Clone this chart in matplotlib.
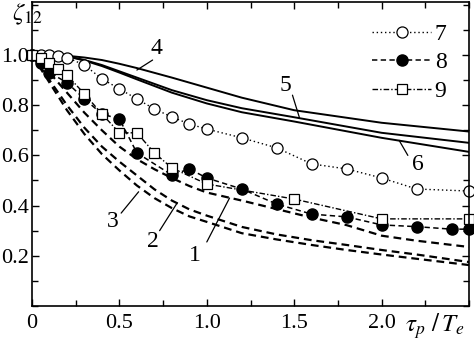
import matplotlib
matplotlib.use("Agg")
import matplotlib.pyplot as plt
from matplotlib.ticker import MultipleLocator

plt.rcParams["font.family"] = ["Liberation Serif", "DejaVu Serif"]
plt.rcParams["mathtext.fontset"] = "stix"

# Calculated curves 1-6 (tau_p / T_e vs zeta_12)
x_calc = [0, 0.1, 0.2, 0.3, 0.4, 0.5, 0.6, 0.7, 0.8, 0.9, 1.0, 1.2, 1.4, 1.6, 1.8, 2.0, 2.2, 2.5]
y1 = [1.0, 0.93, 0.85, 0.77, 0.70, 0.635, 0.585, 0.545, 0.51, 0.478, 0.452, 0.42, 0.386, 0.352, 0.322, 0.28, 0.26, 0.235]
y2 = [1.0, 0.90, 0.80, 0.71, 0.635, 0.575, 0.52, 0.465, 0.42, 0.385, 0.36, 0.315, 0.285, 0.262, 0.243, 0.223, 0.205, 0.175]
y3 = [1.0, 0.89, 0.78, 0.685, 0.605, 0.54, 0.48, 0.43, 0.39, 0.357, 0.335, 0.29, 0.265, 0.243, 0.223, 0.205, 0.188, 0.163]

x_solid = [0, 0.1, 0.2, 0.3, 0.4, 0.5, 0.6, 0.8, 1.0, 1.2, 1.5, 2.0, 2.5]
y4 = [1.0, 1.0, 0.997, 0.99, 0.98, 0.965, 0.948, 0.91, 0.87, 0.83, 0.78, 0.73, 0.695]
y5 = [1.0, 1.0, 0.995, 0.98, 0.96, 0.935, 0.91, 0.86, 0.82, 0.788, 0.752, 0.69, 0.65]
y6 = [1.0, 1.0, 0.995, 0.978, 0.956, 0.93, 0.903, 0.85, 0.807, 0.772, 0.735, 0.67, 0.614]

# Measured points 7-9
x7 = [0, 0.05, 0.1, 0.15, 0.2, 0.3, 0.4, 0.5, 0.6, 0.7, 0.8, 0.9, 1.0, 1.2, 1.4, 1.6, 1.8, 2.0, 2.2, 2.5]
y7 = [1.0, 1.0, 1.0, 0.995, 0.99, 0.96, 0.905, 0.865, 0.825, 0.785, 0.753, 0.725, 0.705, 0.67, 0.63, 0.566, 0.546, 0.51, 0.466, 0.458]

x8 = [0, 0.05, 0.1, 0.2, 0.3, 0.4, 0.5, 0.6, 0.8, 0.9, 1.0, 1.2, 1.4, 1.6, 1.8, 2.0, 2.2, 2.4, 2.5]
y8 = [1.0, 0.97, 0.93, 0.89, 0.825, 0.765, 0.745, 0.61, 0.522, 0.546, 0.51, 0.466, 0.406, 0.366, 0.355, 0.323, 0.316, 0.306, 0.306]

x9 = [0, 0.05, 0.1, 0.15, 0.2, 0.3, 0.4, 0.5, 0.6, 0.7, 0.8, 1.0, 1.5, 2.0, 2.5]
y9 = [1.0, 0.99, 0.968, 0.944, 0.92, 0.845, 0.765, 0.69, 0.69, 0.61, 0.55, 0.486, 0.426, 0.347, 0.347]

x_ticks = [0, 0.5, 1.0, 1.5, 2.0]
x_tick_labels = ["0", "0.5", "1.0", "1.5", "2.0"]
y_ticks = [0.2, 0.4, 0.6, 0.8, 1.0]
y_tick_labels = ["0.2", "0.4", "0.6", "0.8", "1.0"]

fig = plt.figure(figsize=(4.74, 3.43), dpi=100)
ax = fig.add_axes([0.0675, 0.108, 0.922, 0.886])

dash = (0, (3.5, 2.2))
for yy in (y1, y2, y3):
    ax.plot(x_calc, yy, color="black", lw=1.6, linestyle=dash)
for yy in (y4, y5, y6):
    ax.plot(x_solid, yy, color="black", lw=1.4)

h7, = ax.plot(x7, y7, color="black", lw=1.0, linestyle=(0, (1, 2)),
              marker="o", ms=8, mfc="white", mec="black", mew=0.9, clip_on=False)
h8, = ax.plot(x8, y8, color="black", lw=1.1, linestyle=(0, (3.5, 2.2)),
              marker="o", ms=8, mfc="black", mec="black", clip_on=False)
h9, = ax.plot(x9, y9, color="black", lw=1.0, linestyle=(0, (4, 1.5, 1, 1.5)),
              marker="s", ms=7, mfc="white", mec="black", mew=0.9, clip_on=False)

ax.legend([h7, h8, h9], ["7", "8", "9"], loc="upper right",
          bbox_to_anchor=(0.997, 1.0), frameon=False, numpoints=1,
          handlelength=2.5, handletextpad=0.15, labelspacing=0.3,
          fontsize=17)

# Curve labels with leader lines
leader = dict(arrowstyle="-", color="black", lw=0.9, shrinkA=0, shrinkB=0)
labels = [
    ("1", (1.13, 0.43), (0.93, 0.2), (1.0, 0.255)),
    ("2", (0.83, 0.41), (0.69, 0.255), (0.73, 0.30)),
    ("3", (0.61, 0.455), (0.46, 0.335), (0.51, 0.37)),
    ("4", (0.60, 0.94), (0.71, 1.025), (0.69, 0.98)),
    ("5", (1.53, 0.75), (1.45, 0.88), (1.49, 0.84)),
    ("6", (2.10, 0.66), (2.21, 0.565), (2.15, 0.60)),
]
for txt, tip, pos, start in labels:
    ax.annotate("", xy=tip, xytext=start, arrowprops=leader)
    ax.text(pos[0], pos[1], txt, fontsize=17, ha="center", va="center")

ax.set_xlim(0, 2.5)
ax.set_ylim(0, 1.211)
ax.set_xticks(x_ticks)
ax.set_xticklabels(x_tick_labels)
ax.set_yticks(y_ticks)
ax.set_yticklabels(y_tick_labels)
ax.xaxis.set_minor_locator(MultipleLocator(0.25))
ax.yaxis.set_minor_locator(MultipleLocator(0.1))
ax.tick_params(which="both", direction="in", top=True, right=True,
               labelsize=16, width=1.0)
ax.tick_params(which="major", length=5, pad=6)
ax.tick_params(which="minor", length=4)
ax.tick_params(axis="y", pad=2)
for s in ax.spines.values():
    s.set_linewidth(1.2)

ax.text(-0.045, 1.0, r"$\zeta_{12}$", transform=ax.transAxes, fontsize=18,
        ha="left", va="top")
ax.text(0.99, -0.065, r"$\tau_p\ /\,T_e$", transform=ax.transAxes, fontsize=18,
        ha="right", va="center")

fig.savefig("out.png", dpi=100)
